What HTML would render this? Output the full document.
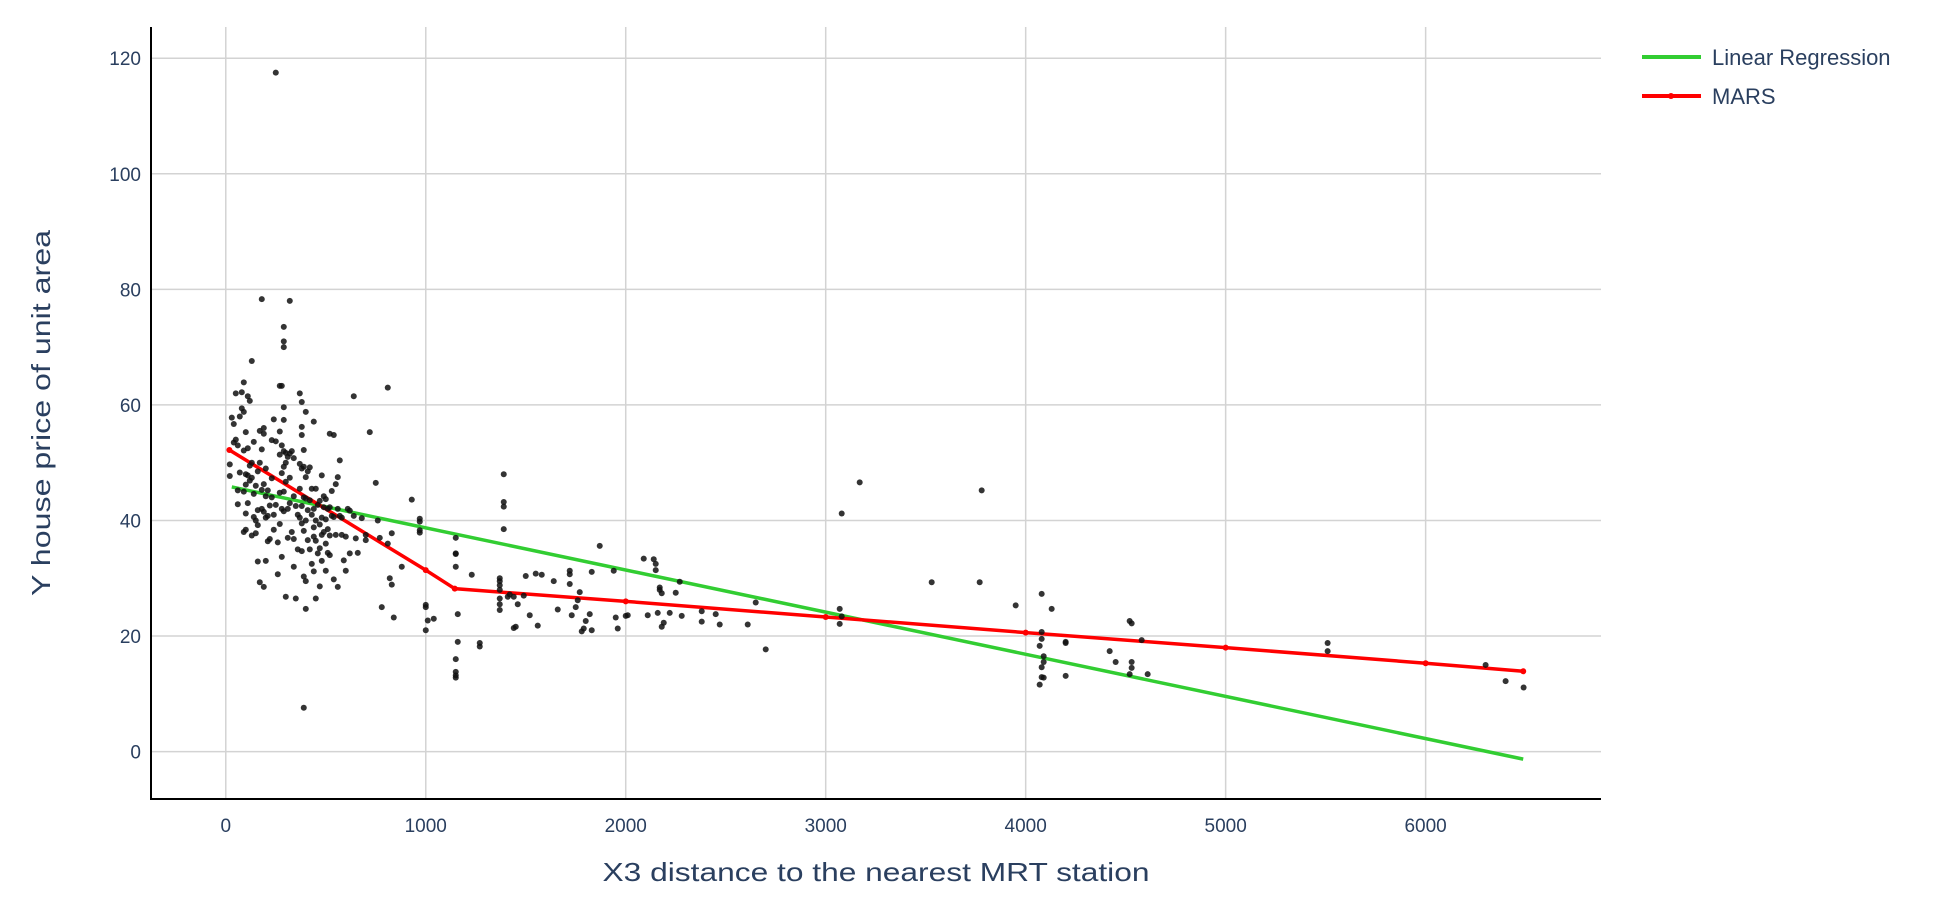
<!DOCTYPE html>
<html><head><meta charset="utf-8"><style>
html,body{margin:0;padding:0;background:#fff;}
svg text{font-family:"Liberation Sans",sans-serif;fill:#2a3f5f;}
</style></head><body>
<svg id="chart" width="1954" height="916" xmlns="http://www.w3.org/2000/svg">
<g id="grid"></g>
<g id="lines"></g>
<g id="points"></g>
<g id="axes"></g>
<text x="876" y="881" font-size="26" text-anchor="middle" textLength="547" lengthAdjust="spacingAndGlyphs">X3 distance to the nearest MRT station</text>
<text transform="translate(50,413) rotate(-90)" font-size="26" text-anchor="middle" textLength="366" lengthAdjust="spacingAndGlyphs">Y house price of unit area</text>
<g>
<g>
<line x1="1642" y1="57" x2="1701" y2="57" stroke="#32cd32" stroke-width="4"/>
<text x="1712" y="65" font-size="22">Linear Regression</text></g>
<g>
<line x1="1642" y1="96" x2="1701" y2="96" stroke="#ff0000" stroke-width="4"/>
<circle cx="1671" cy="96" r="3" fill="#ff0000"/>
<text x="1712" y="104" font-size="22">MARS</text></g>
</g>
</svg>
<script>
const xTicks=[0,1000,2000,3000,4000,5000,6000];
const yTicks=[0,20,40,60,80,100,120];
const linX=[30,6488];
const linY=[45.8,-1.3];
const marsX=[18,1000,1145,2000,3000,4000,5000,6000,6488];
const marsY=[52.2,31.4,28.2,26.0,23.3,20.6,18.0,15.3,13.9];
const ptX=[250,390,180,320,290,290,290,130,640,810,720,3080,3170,3780,3530,3770,3950,4080,4130,4080,4080,4070,4090,4090,4080,4080,4090,4070,4200,4200,4200,4420,4450,4520,4530,4530,4520,4530,4580,4610,5510,5510,6300,6400,6490,
970,970,970,970,930,1000,1010,1000,1040,1000,1150,1150,1150,1150,1160,1150,1150,1150,1150,1160,1270,1270,1230,1390,1390,1390,1390,1370,1370,1370,1370,1370,1370,1370,1410,1420,1440,1460,1440,1450,1500,1490,1520,1560,1550,1580,1640,1660,1720,1720,1720,1730,1750,1760,1770,1780,1790,1800,1830,1820,1830,1870,1940,1950,1960,2000,2010,2090,2110,2140,2150,2150,2170,2170,2180,2160,2190,2180,2220,2250,2270,2280,2380,2380,2450,2470,2610,2650,2700,3070,3070,3080,750,760,770,780,830,810,820,830,840,880,700,700,680,
20,20,30,40,40,50,50,60,60,70,80,80,90,90,90,90,90,100,100,100,100,100,110,110,110,110,120,120,120,130,130,140,140,140,150,150,160,160,160,160,170,170,170,180,180,180,190,190,190,190,190,200,200,200,200,210,210,220,220,230,230,240,240,250,250,260,260,270,270,270,270,270,280,280,280,280,280,290,290,290,290,290,290,300,300,300,310,310,310,320,320,320,330,330,340,340,340,340,350,350,360,360,370,370,370,370,380,380,380,380,380,380,380,390,390,390,390,390,400,400,400,400,400,400,410,410,410,420,420,420,430,430,430,440,440,440,440,450,450,450,450,460,460,470,470,470,480,480,480,480,490,490,490,500,500,500,500,510,510,510,520,520,520,530,530,540,540,540,550,550,560,560,560,570,570,580,580,590,600,600,610,620,620,640,650,660,230,240,210,150,130,60,70,300,440,470,520];
const ptY=[117.5,7.6,78.3,78,73.5,71,70,67.6,61.5,63,55.3,41.2,46.6,45.2,29.3,29.3,25.3,27.3,24.7,20.7,19.5,18.3,16.5,15.5,14.6,12.9,12.8,11.6,19,18.8,13.1,17.4,15.5,22.6,22.2,15.5,13.4,14.5,19.3,13.4,18.8,17.4,15,12.2,11.1,
40.3,39.8,38.3,37.9,43.6,25.4,22.7,21,23,25,37,34.3,34.2,32,19,16,13.8,13.2,12.8,23.8,18.8,18.2,30.6,48,43.2,42.4,38.5,30,29.5,28.8,28,26.5,25.5,24.5,26.8,27.2,26.8,25.5,21.4,21.6,30.4,27,23.6,21.8,30.8,30.6,29.5,24.6,31.3,30.7,29,23.6,25,26.2,27.6,20.8,21.3,22.6,21,23.8,31.1,35.6,31.3,23.2,21.3,23.5,23.6,33.4,23.6,33.3,31.4,32.5,28.4,28,27.4,24,22.3,21.6,24,27.5,29.4,23.5,22.5,24.3,23.8,22,22,25.8,17.7,24.7,22.1,23.4,46.5,40,37,25,37.8,36,30,28.9,23.2,32,37.5,36.6,40.4,
49.7,47.7,57.8,56.7,53.5,62,54,53,42.8,58,62.2,59.4,63.9,58.8,52.1,45,38,55.3,48,46.2,41.2,38.4,61.5,52.5,47.8,43,60.7,49.5,46.9,47.4,37.4,53.6,44.6,40.6,40,37.8,48.5,41.8,39.2,32.9,29.3,55.5,50,52.3,45.3,42,56,55,46.3,41.5,28.5,49,44.2,40.5,33,45.2,40.8,42.6,36.8,47.3,44,41,38.4,42.7,53.7,36.2,30.7,63.3,55.4,51.4,44.8,39.4,63.3,53,48.2,42,33.7,59.6,57.4,52,49.3,45,41.6,51.7,46.7,26.8,51,42,37,51.6,47.4,43,52,38,50.8,44.2,36.8,32,42.5,26.5,41,35,62,49.8,45.5,40.5,60.5,56.2,54.8,49,42.5,39.5,34.7,52.2,49.3,44,38.2,30.3,58.8,47.5,43.8,40,29.5,24.7,48.5,41.8,36.6,49.2,43.5,35,45.5,41,32.5,57.1,42,38.8,31.2,45.5,40,36.5,26.5,42.7,34.3,43.4,39.3,35.2,47.8,40.5,37.5,33,44.2,42.3,38,43.7,40.2,36,31.3,42,38.5,34.4,55,42.3,37.4,45.1,40.8,54.8,40.6,29.8,46.3,37.5,47.5,42,28.5,50.4,40.8,40.5,37.5,33.1,37.2,31.3,42,41.7,34.3,40.8,36.9,34.4,53.9,57.5,36.4,46,50,45.2,48.3,50,37.2,28.6,34];

const NS='http://www.w3.org/2000/svg';
const L=151,R=1601,T=27,B=799;
const X0=-374,X1=6877,Y0=-8.2,Y1=125.4;
function sx(v){return L+(v-X0)/(X1-X0)*(R-L);}
function sy(v){return B-(v-Y0)/(Y1-Y0)*(B-T);}
function mk(tag,attrs,parent){const e=document.createElementNS(NS,tag);for(const k in attrs)e.setAttribute(k,attrs[k]);parent.appendChild(e);return e;}
const grid=document.getElementById('grid'),axes=document.getElementById('axes'),lines=document.getElementById('lines'),pts=document.getElementById('points');
xTicks.forEach(t=>{
  const g=mk('line',{x1:sx(t),x2:sx(t),y1:T,y2:B,stroke:'#d3d3d3','stroke-width':1.5},grid);
  
  
  const tx=mk('text',{x:sx(t),y:832,'font-size':19,'text-anchor':'middle'},axes);
  tx.textContent=t;
  
  
});
yTicks.forEach(t=>{
  const g=mk('line',{x1:L,x2:R,y1:sy(t),y2:sy(t),stroke:'#d3d3d3','stroke-width':1.5},grid);
  
  
  const tx=mk('text',{x:141,y:sy(t)+7,'font-size':19,'text-anchor':'end'},axes);
  tx.textContent=t;
  
  
});
const ax1=mk('line',{x1:L,x2:L,y1:T,y2:B+1,stroke:'#000','stroke-width':2},axes);


const ax2=mk('line',{x1:L-1,x2:R,y1:B,y2:B,stroke:'#000','stroke-width':2},axes);


for(let i=0;i<ptX.length;i++){
  const c=mk('circle',{cx:sx(ptX[i]),cy:sy(ptY[i]),r:3,fill:'#111','fill-opacity':0.85},pts);
  
  
}
const lp=mk('polyline',{points:linX.map((x,i)=>sx(x)+','+sy(linY[i])).join(' '),fill:'none',stroke:'#32cd32','stroke-width':3.5},lines);


const mp=mk('polyline',{points:marsX.map((x,i)=>sx(x)+','+sy(marsY[i])).join(' '),fill:'none',stroke:'#ff0000','stroke-width':3.5},lines);


marsX.forEach((x,i)=>{
  const c=mk('circle',{cx:sx(x),cy:sy(marsY[i]),r:3,fill:'#ff0000'},lines);
  
  
});
</script>
</body></html>
